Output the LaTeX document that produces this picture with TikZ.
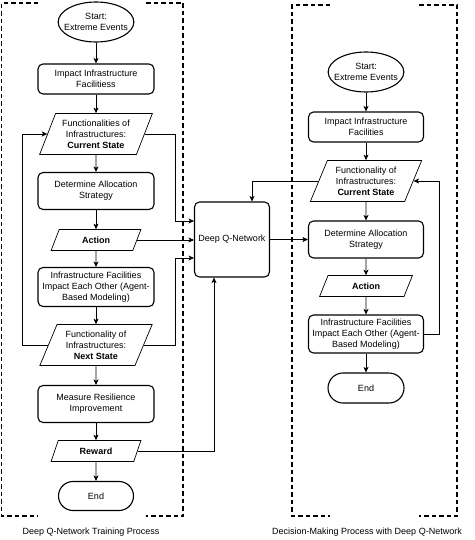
\documentclass[tikz,border=0pt]{standalone}
\usepackage{fontspec}
\setmainfont{Liberation Sans}
\usetikzlibrary{arrows.meta, positioning, shapes.geometric}
\tikzset{x = 1pt, y = -1pt,
	 node distance = 55pt, on grid,
	 >= {Stealth[length = 5.5pt, width = 5pt, inset = 1.5pt]},
	 every node/.style = {font = \fontsize{9}{11}\selectfont,
			      align = center},
	 terminal/.style = {draw, line width = 1.1pt, ellipse,
			    minimum width = 75pt, minimum height = 40pt,
			    inner xsep = -5pt, inner ysep = 0pt},
	 finish/.style = {draw, line width = 1.1pt, rounded corners = 14.5pt,
			  minimum width = 75pt, minimum height = 29pt},
	 process/.style = {draw, line width = 1.1pt, rounded corners = 5pt,
			   minimum width = 116pt, minimum height = 37pt,
			   inner sep = 1pt},
	 io/.style = {draw, line width = 0.7pt, trapezium,
		      trapezium left angle = 65, trapezium right angle = 115,
		      trapezium stretches = true,
		      minimum width = 113pt, minimum height = 41pt,
		      inner sep = 0pt},
	 short io/.style = {minimum width = 90pt, minimum height = 21pt},
	 flow/.style = {->, line width = 0.6pt},
	 group/.style = {line width = 1.5pt, dash pattern = on 4.5pt off 3pt}}

\begin{document}
\begin{tikzpicture}
      \useasboundingbox (0,0) rectangle (474,540);
      \draw [group] (38,3) -- (1.5,3) -- (1.5,516) -- (38,516);
      \draw [group] (146,3) -- (183,3) -- (183,516) -- (146,516);
      \draw [group] (330,5) -- (292,5) -- (292,516) -- (330,516);
      \draw [group] (419,5) -- (457,5) -- (457,516) -- (419,516);
      \node [terminal] (start1) at (96,22) {Start:\\Extreme Events};
      \node [process, minimum height = 30pt] (imp1) [below = 57pt of start1] {Impact Infrastructure\\Facilitiess};
      \node [io] (cur1) [below = 55pt of imp1] {Functionalities of\\Infrastructures:\\\textbf{Current State}};
      \node [process] (det1) [below = 57pt of cur1] {Determine Allocation\\Strategy};
      \node [io, short io] (act1) [below = 49pt of det1] {\textbf{Action}};
      \node [process, minimum height = 39pt] (abm1) [below = 47pt of act1] {Infrastructure Facilities\\Impact Each Other (Agent-\\Based Modeling)};
      \node [io] (next1) [below = 58pt of abm1] {Functionality of\\Infrastructures:\\\textbf{Next State}};
      \node [process] (meas1) [below = 59pt of next1] {Measure Resilience\\Improvement};
      \node [io, short io] (rew1) [below = 47pt of meas1] {\textbf{Reward}};
      \node [finish] (end1) [below = 45pt of rew1] {End};
      \node [process, minimum width = 75pt, minimum height = 75pt] (dqn) at (232,239.5) {Deep Q-Network};
      \node [terminal] (start2) at (366,72) {Start:\\Extreme Events};
      \node [process, minimum height = 30pt, minimum width = 115pt] (imp2) [below = 55pt of start2] {Impact Infrastructure\\Facilities};
      \node [io, minimum width = 112pt] (cur2) [below = 54pt of imp2] {Functionality of\\Infrastructures:\\\textbf{Current State}};
      \node [process, minimum width = 115pt] (det2) [below = 58.5pt of cur2] {Determine Allocation\\Strategy};
      \node [io, short io, minimum width = 93pt] (act2) [below = 46.5pt of det2] {\textbf{Action}};
      \node [process, minimum width = 115pt, minimum height = 38pt] (abm2) [below = 48pt of act2] {Infrastructure Facilities\\Impact Each Other (Agent-\\Based Modeling)};
      \node [finish, minimum width = 76pt, minimum height = 30pt, rounded corners = 15pt] (end2) [below = 54pt of abm2] {End};
      \node (cap1) at (91,532) {Deep Q-Network Training Process};
      \node (cap2) at (367,532) {Decision-Making Process with Deep Q-Network};
      \path[flow] (start1) edge (imp1)
		  (imp1) edge (cur1)
		  (cur1) edge (det1)
		  (det1) edge (act1)
		  (act1) edge (abm1)
		  (abm1) edge (next1)
		  (next1) edge (meas1)
		  (meas1) edge (rew1)
		  (rew1) edge (end1);
      \path[flow] (start2) edge (imp2)
		  (imp2) edge (cur2)
		  (cur2) edge (det2)
		  (det2) edge (act2)
		  (act2) edge (abm2)
		  (abm2) edge (end2);
      \draw[flow] (next1.west) -- ++(-25.5,0) |- (cur1.west);
      \draw[flow] (cur1.east) -- ++(31,0) |- ([yshift = 18.5pt]dqn.west);
      \draw[flow] (act1.east) -- (act1.east -| dqn.west);
      \draw[flow] (next1.east) -- ++(31,0) |- ([yshift = -18.5pt]dqn.west);
      \draw[flow] (rew1.east) -| ([xshift = -18pt]dqn.south);
      \draw[flow] (dqn.east) -- (det2.west);
      \draw[flow] (cur2.west) -| ([xshift = 20pt]dqn.north);
      \draw[flow] (abm2.east) -- ++(15,0) |- (cur2.east);
\end{tikzpicture}
\end{document}
